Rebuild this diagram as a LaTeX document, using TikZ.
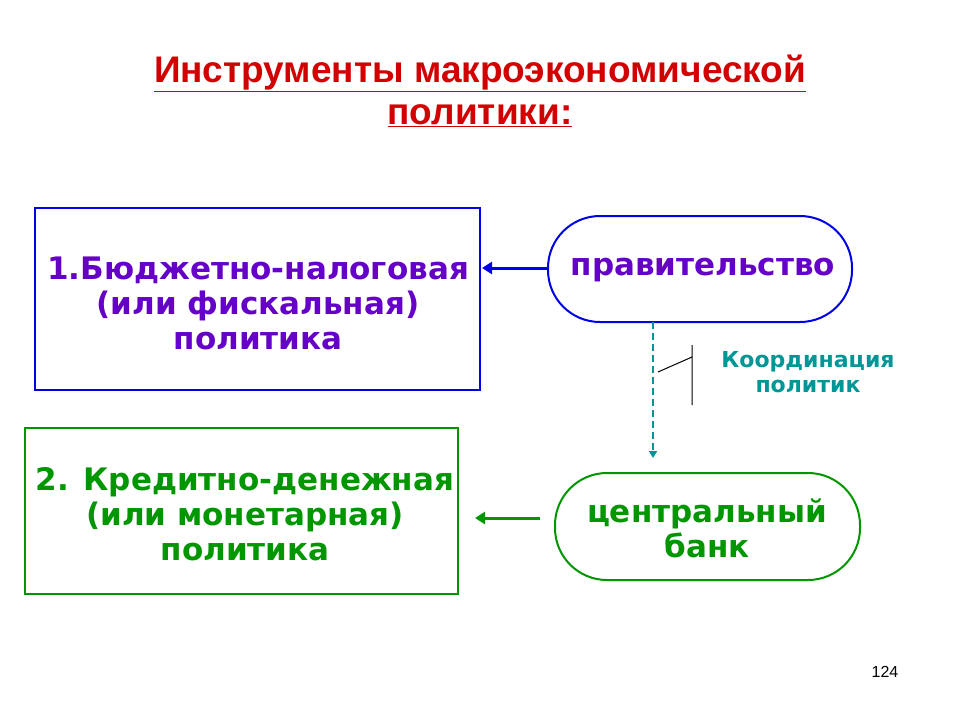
\documentclass[tikz,border=0pt]{standalone}
\usepackage{fontspec}
\setmainfont{DejaVu Sans}
\newfontfamily\arialf{Liberation Sans}
\usetikzlibrary{arrows.meta}
\definecolor{myblue}{RGB}{0,0,230}
\definecolor{mygreen}{RGB}{0,150,0}
\definecolor{mypurple}{RGB}{100,0,200}
\definecolor{myteal}{RGB}{0,150,150}
\definecolor{myred}{RGB}{210,0,0}
\begin{document}
\begin{tikzpicture}[x=1pt,y=-1pt,
  bx/.style={draw,line width=2pt},
  pill/.style={draw,line width=2pt,rounded corners=52pt},
  txt/.style={align=center,font=\bfseries\fontsize{31}{35}\selectfont},
  arr/.style={line width=3pt,-{Triangle[length=10pt,width=12pt]}}]
\useasboundingbox (0,0) rectangle (960,720);
\node[font=\arialf\bfseries\fontsize{37}{42}\selectfont,text=myred,align=center] (title) at (480,91) {\underline{Инструменты макроэкономической}\\\underline{политики:}};
\draw[bx,myblue] (35,208) rectangle (480,390);
\node[txt,text=mypurple] (b1) at (258,303) {1.Бюджетно-налоговая\\(или фискальная)\\политика};
\draw[bx,mygreen] (25,428) rectangle (458,594);
\node[txt,text=mygreen] (b2) at (245,514) {2. Кредитно-денежная\\(или монетарная)\\политика};
\draw[pill,myblue] (548,216) rectangle (852,322);
\node[txt,text=mypurple] (g) at (703,270) {правительство};
\draw[pill,mygreen] (555,473) rectangle (860,580);
\node[txt,text=mygreen] (cb) at (707,528) {центральный\\банк};
\coordinate (ga) at (548,268); \coordinate (gb) at (482,268);
\draw[arr,myblue] (ga) -- (gb);
\coordinate (ca) at (540,518); \coordinate (cb2) at (475,518);
\draw[arr,mygreen] (ca) -- (cb2);
\coordinate (d1) at (653,322); \coordinate (d2) at (653,458);
\draw[myteal,line width=2.5pt,dash pattern=on 7pt off 4pt,-{Triangle[length=7pt,width=8pt]}] (d1) -- (d2);
\coordinate (c1) at (658,372); \coordinate (c2) at (692,357);
\coordinate (c3) at (692,345); \coordinate (c4) at (692,405);
\draw[line width=1pt] (c1) -- (c2) (c3) -- (c4);
\node[text=myteal,align=center,font=\bfseries\fontsize{22}{25}\selectfont] (lab) at (808,372) {Координация\\политик};
\node[font=\arialf\fontsize{16}{19}\selectfont] (pn) at (885,672) {124};
\end{tikzpicture}
\end{document}
